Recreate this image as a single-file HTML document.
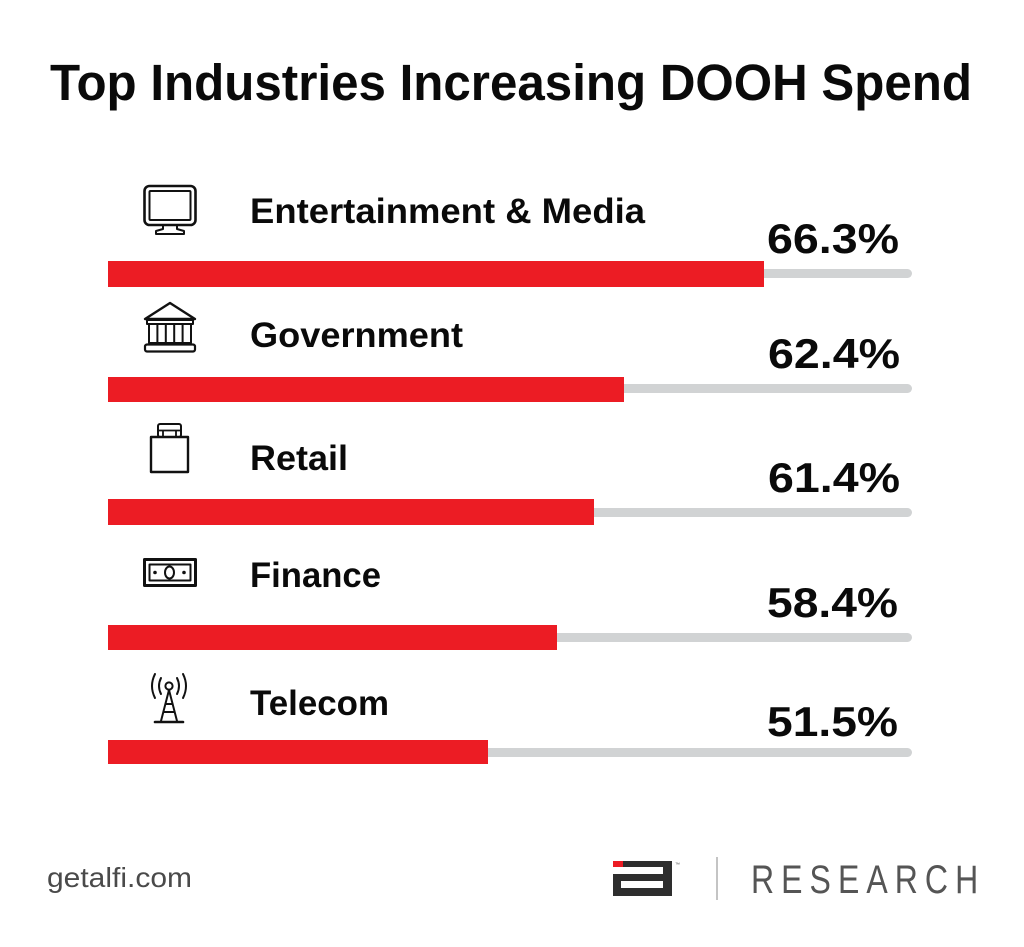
<!DOCTYPE html>
<html>
<head>
<meta charset="utf-8">
<style>
  html, body { margin:0; padding:0; background:#fff; }
  body { width:1024px; height:947px; overflow:hidden; }
  svg { display:block; }
  .t { font-family:"Liberation Sans", sans-serif; font-weight:bold; fill:#0a0a0a; }
  .f { font-family:"Liberation Sans", sans-serif; font-weight:normal; }
</style>
</head>
<body>
<svg width="1024" height="947" viewBox="0 0 1024 947" xmlns="http://www.w3.org/2000/svg">
  <rect width="1024" height="947" fill="#ffffff"/>

  <!-- Title -->
  <text class="t" x="50" y="100" font-size="51" textLength="922" lengthAdjust="spacingAndGlyphs">Top Industries Increasing DOOH Spend</text>

  <!-- Gray tracks -->
  <g fill="#d1d3d4">
    <rect x="108" y="269" width="804" height="9" rx="4.5"/>
    <rect x="108" y="384" width="804" height="9" rx="4.5"/>
    <rect x="108" y="508" width="804" height="9" rx="4.5"/>
    <rect x="108" y="633" width="804" height="9" rx="4.5"/>
    <rect x="108" y="748" width="804" height="9" rx="4.5"/>
  </g>

  <!-- Red bars -->
  <g fill="#ec1c24">
    <rect x="108" y="261" width="656" height="26"/>
    <rect x="108" y="377" width="516" height="25"/>
    <rect x="108" y="499" width="486" height="26"/>
    <rect x="108" y="625" width="449" height="25"/>
    <rect x="108" y="740" width="380" height="24"/>
  </g>

  <!-- Labels -->
  <text class="t" x="250" y="223" font-size="35" textLength="395" lengthAdjust="spacingAndGlyphs">Entertainment &amp; Media</text>
  <text class="t" x="250" y="347" font-size="35" textLength="213" lengthAdjust="spacingAndGlyphs">Government</text>
  <text class="t" x="250" y="470" font-size="35" textLength="98" lengthAdjust="spacingAndGlyphs">Retail</text>
  <text class="t" x="250" y="587" font-size="35" textLength="131" lengthAdjust="spacingAndGlyphs">Finance</text>
  <text class="t" x="250" y="715" font-size="35" textLength="139" lengthAdjust="spacingAndGlyphs">Telecom</text>

  <!-- Percentages -->
  <text class="t" x="767" y="253" font-size="42" textLength="132" lengthAdjust="spacingAndGlyphs">66.3%</text>
  <text class="t" x="768" y="368" font-size="42" textLength="132" lengthAdjust="spacingAndGlyphs">62.4%</text>
  <text class="t" x="768" y="492" font-size="42" textLength="132" lengthAdjust="spacingAndGlyphs">61.4%</text>
  <text class="t" x="767" y="617" font-size="42" textLength="131" lengthAdjust="spacingAndGlyphs">58.4%</text>
  <text class="t" x="767" y="736" font-size="42" textLength="131" lengthAdjust="spacingAndGlyphs">51.5%</text>

  <!-- Icons -->
  <g fill="none" stroke="#111" stroke-linejoin="round" stroke-linecap="round">
    <!-- TV -->
    <rect x="144.5" y="186" width="51" height="39" rx="5" stroke-width="2.6"/>
    <rect x="149.5" y="191" width="41" height="29" rx="1" stroke-width="2"/>
    <path d="M163,225 L163,229 L156,231 L156,234 L184,234 L184,231 L177,229 L177,225" stroke-width="2"/>

    <!-- Government -->
    <path d="M170,303 L145,319 L195,319 Z" stroke-width="2.4"/>
    <rect x="147" y="320" width="46" height="4" stroke-width="2"/>
    <rect x="149" y="324" width="42" height="19" stroke-width="2"/>
    <path d="M157.4,324 L157.4,343 M165.8,324 L165.8,343 M174.2,324 L174.2,343 M182.6,324 L182.6,343" stroke-width="2"/>
    <rect x="145" y="344.5" width="50" height="7" rx="2" stroke-width="2.2"/>

    <!-- Bag -->
    <rect x="158" y="424" width="23" height="13" rx="2" stroke-width="2"/>
    <path d="M158,430.5 L181,430.5 M163,430.5 L163,437 M176,430.5 L176,437" stroke-width="1.8"/>
    <rect x="151" y="437" width="37" height="35" stroke-width="2.4"/>

    <!-- Finance -->
    <rect x="144.5" y="559.5" width="51" height="26" stroke-width="3"/>
    <rect x="149.5" y="564.5" width="41" height="16" stroke-width="2"/>
    <ellipse cx="169.5" cy="572.5" rx="4.5" ry="6" stroke-width="2"/>

    <!-- Telecom -->
    <circle cx="169" cy="686" r="3.6" stroke-width="2"/>
    <path d="M169,690 L161,721 M169,690 L177,721 M165.5,704 L172.5,704 M163.5,712 L174.5,712" stroke-width="2"/>
    <path d="M155,722 L183,722" stroke-width="2.6"/>
    <path d="M161,678 Q157,686 161,694 M177,678 Q181,686 177,694" stroke-width="2"/>
    <path d="M155,674 Q149,686 155,698 M183,674 Q189,686 183,698" stroke-width="2"/>
  </g>
  <circle cx="155" cy="572.5" r="1.8" fill="#111"/>
  <circle cx="184" cy="572.5" r="1.8" fill="#111"/>

  <!-- Footer -->
  <text class="f" x="47" y="887" font-size="28" fill="#4a4a4a" textLength="145" lengthAdjust="spacingAndGlyphs">getalfi.com</text>

  <!-- Logo -->
  <rect x="613" y="861" width="59" height="35" fill="#2e2e2e"/>
  <rect x="613" y="867" width="50" height="7" fill="#ffffff"/>
  <rect x="621" y="881" width="42" height="7" fill="#ffffff"/>
  <rect x="613" y="861" width="10" height="6" fill="#ec1c24"/>
  <text x="675" y="866" font-size="5" font-family="Liberation Sans, sans-serif" fill="#555">™</text>

  <line x1="717" y1="857" x2="717" y2="900" stroke="#b0b0b0" stroke-width="1.5"/>

  <g transform="scale(0.8,1)">
    <text class="f" x="938.75" y="893" font-size="40" fill="#555" textLength="284" lengthAdjust="spacing">RESEARCH</text>
  </g>
</svg>
</body>
</html>
